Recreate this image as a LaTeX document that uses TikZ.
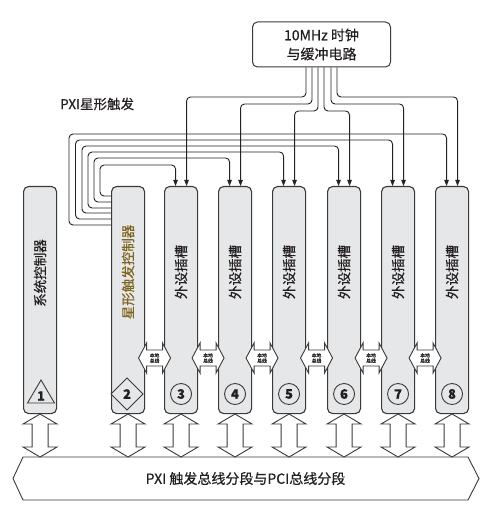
\documentclass[tikz,border=0pt]{standalone}
\usepackage{fontspec}
\setmainfont[FakeBold=0.5]{Noto Sans CJK SC}
\usetikzlibrary{arrows.meta,calc}
\definecolor{slotfill}{HTML}{E6E7E8}
\definecolor{edgec}{HTML}{3A3A3A}
\definecolor{linec}{HTML}{222222}
\definecolor{txtc}{HTML}{231F20}
\definecolor{goldtxt}{HTML}{7F6420}
\begin{document}
\begin{tikzpicture}[x=1pt,y=-1pt,
  slotbox/.style={draw=edgec, fill=slotfill, line width=1.1pt, rounded corners=5pt,
    minimum width=33pt, minimum height=227pt, inner sep=0pt, anchor=north west},
  slottext/.style={rotate=90, font=\fontsize{13.5}{14}\selectfont, text=txtc, inner sep=0pt},
  sig/.style={draw=linec, line width=0.9pt, rounded corners=4pt,
    -{Triangle[length=6pt,width=4.5pt]}},
  busarrow/.style={draw=edgec, fill=white, line width=0.9pt, line join=miter},
  lbtext/.style={font=\fontsize{4.8}{5.4}\selectfont, text=txtc, align=center, inner sep=0pt},
  numtext/.style={font=\fontsize{13}{13}\selectfont\bfseries, text=txtc, inner sep=0pt},
  lbus/.pic={\draw[busarrow] (-16,0) -- (-8,-15) -- (-8,-8) -- (8,-8) -- (8,-15) -- (16,0)
      -- (8,15) -- (8,8) -- (-8,8) -- (-8,15) -- cycle;
      \node[lbtext] (-t) {本地\\总线};},
  vbus/.pic={\draw[busarrow] (0,-21.5) -- (17,-11.5) -- (8,-11.5) -- (8,11.5) -- (17,11.5)
      -- (0,21.5) -- (-17,11.5) -- (-8,11.5) -- (-8,-11.5) -- (-17,-11.5) -- cycle;}
]
\useasboundingbox (0,0) rectangle (503,521);

% clock box
\node[draw=edgec, fill=white, line width=1pt, rounded corners=5pt, minimum width=138pt,
  minimum height=45pt, align=center, inner sep=0pt,
  font=\fontsize{14}{19}\selectfont, text=txtc] (clk) at (321.5,44.5) {10MHz 时钟\\与缓冲电路};

% label
\node[anchor=west, font=\fontsize{13.5}{14}\selectfont, text=txtc, inner sep=0pt] (pxil) at (60,104) {PXI星形触发};

% slots
\node[slotbox] (s1) at (23,186) {};
\node[slotbox] (s2) at (111,186) {};
\node[slotbox] (s3) at (164,186) {};
\node[slotbox] (s4) at (218,186) {};
\node[slotbox] (s5) at (272,186) {};
\node[slotbox] (s6) at (327,186) {};
\node[slotbox] (s7) at (381,186) {};
\node[slotbox] (s8) at (435,186) {};

\node[slottext] (l1) at (s1.center |- 0,273) {系统控制器};
\node[slottext, text=goldtxt] (l2) at (s2.center |- 0,272) {星形触发控制器};
\foreach \i in {3,...,8}{
  \node[slottext] (l\i) at (s\i.center |- 0,272) {外设插槽};
}

% arrow targets
\foreach \i in {3,...,8}{
  \coordinate (t\i) at ([xshift=-5.5pt]s\i.north);
  \coordinate (c\i) at ([xshift=5.5pt]s\i.north);
}

% clock lines
\coordinate (k3) at ([xshift=-15.5pt]clk.south);
\coordinate (k4) at ([xshift=-9.5pt]clk.south);
\coordinate (k5) at ([xshift=-3.5pt]clk.south);
\coordinate (k6) at ([xshift=2.5pt]clk.south);
\coordinate (k7) at ([xshift=9.5pt]clk.south);
\coordinate (k8) at ([xshift=15.5pt]clk.south);
\coordinate (h3) at (0,97);
\coordinate (h4) at (0,104);
\coordinate (h5) at (0,111);
\coordinate (h6) at (0,111);
\coordinate (h7) at (0,104);
\coordinate (h8) at (0,97);
\foreach \i in {3,...,8}{
  \draw[sig] (k\i) -- (k\i |- h\i) -| (c\i);
}

% star trigger lines
\coordinate (p8) at ([yshift=-39pt]s2.north west);
\coordinate (p7) at ([yshift=-33pt]s2.north west);
\coordinate (p6) at ([yshift=-27pt]s2.north west);
\coordinate (p5) at ([yshift=-22pt]s2.north west);
\coordinate (p4) at ([yshift=-16pt]s2.north west);
\coordinate (p3) at ([yshift=-10pt]s2.north west);
\coordinate (v8) at (69,134);
\coordinate (v7) at (75.5,140);
\coordinate (v6) at (82,146);
\coordinate (v5) at (88,152);
\coordinate (v4) at (94,158);
\coordinate (v3) at (100,165);
\foreach \i in {3,...,8}{
  \draw[sig] (p\i) -| (v\i) -| (t\i);
}

% local bus arrows
\foreach \a/\b in {2/3,3/4,4/5,5/6,6/7,7/8}{
  \coordinate (m\a\b) at ($(s\a.north east)!0.5!(s\b.north west)$);
  \pic (lb\a\b) at (m\a\b |- 0,358) {lbus};
}

% symbols
\draw[edgec, line width=0.9pt, fill=slotfill, line join=miter] (41,380) -- (54.5,403) -- (27.5,403) -- cycle;
\node[numtext] (n1) at (41,396) {1};
\draw[edgec, line width=0.9pt, fill=slotfill, line join=miter] (127,378) -- (143,394) -- (127,410) -- (111,394) -- cycle;
\node[numtext] (n2) at (127,394) {2};
\foreach \i in {3,...,8}{
  \node[circle, draw=edgec, line width=0.9pt, minimum size=21pt, inner sep=0pt, numtext] (n\i) at (s\i.center |- 0,394) {\i};
}

% bus
\draw[draw=edgec, fill=white, line width=0.9pt, line join=miter]
  (13,478.5) -- (23,457) -- (468,457) -- (479,478.5) -- (468,500) -- (23,500) -- cycle;
\node[font=\fontsize{14}{14}\selectfont, text=txtc, inner sep=0pt] (bus) at (245.5,478.5) {PXI 触发总线分段与PCI总线分段};

% vertical bus arrows
\foreach \i in {1,...,8}{
  \pic (vb\i) at (s\i.south |- 0,435.5) {vbus};
}
\end{tikzpicture}
\end{document}
